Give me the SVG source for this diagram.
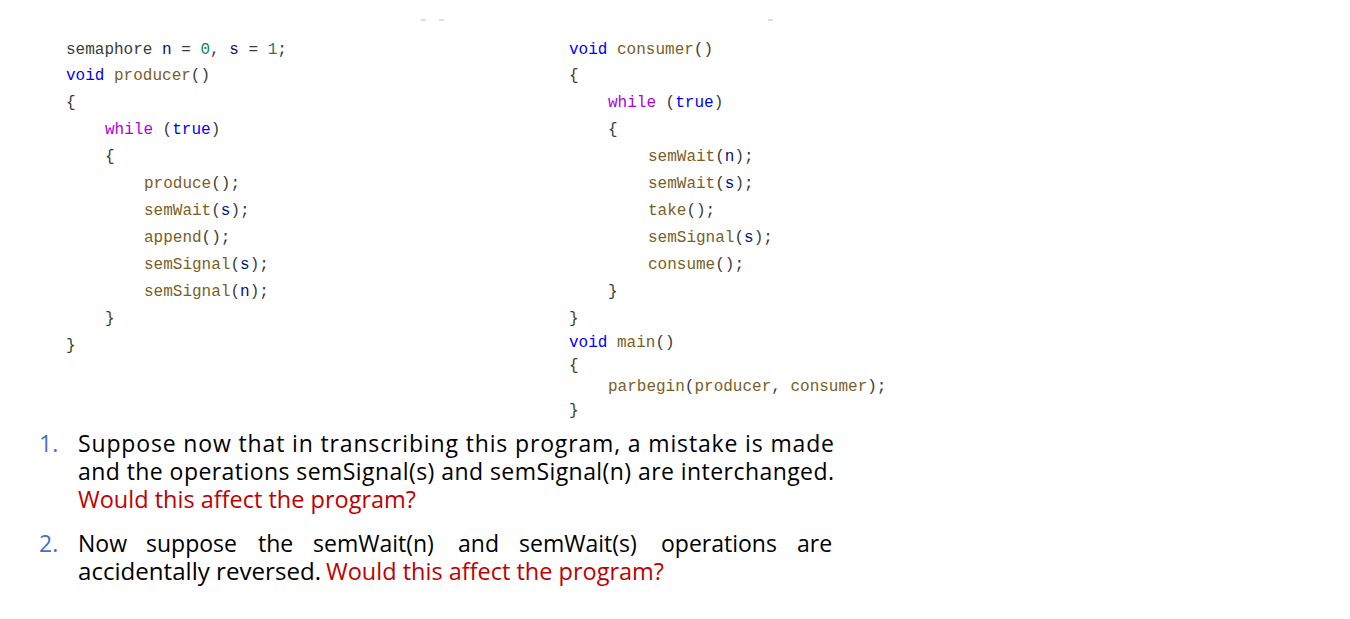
<svg xmlns="http://www.w3.org/2000/svg" width="1350" height="619" viewBox="0 0 1350 619">
<style>
.c{font-family:"Liberation Mono",monospace;font-size:16px;fill:#3b3b3b}
.k{fill:#0000ff}.f{fill:#795e26}.v{fill:#001080}.n{fill:#098658}.m{fill:#af00db}
.t{font-family:"Open Sans","Liberation Sans",sans-serif;font-size:23px;fill:#000}
.r{fill:#c00000}.b{fill:#4472c4}
</style>
<rect width="1350" height="619" fill="#fff"/>
<g stroke="#bbb" stroke-width="1"><line x1="421" y1="20" x2="426" y2="20"/><line x1="439" y1="20" x2="444" y2="20"/><line x1="768" y1="20" x2="773" y2="20"/></g>
<g id="producer" class="c">
<text x="66" y="54">semaphore <tspan class="v">n</tspan> = <tspan class="n">0</tspan>, <tspan class="v">s</tspan> = <tspan class="n">1</tspan>;</text>
<text x="66" y="80"><tspan class="k">void</tspan> <tspan class="f">producer</tspan>()</text>
<text x="66" y="107">{</text>
<text x="105" y="134"><tspan class="m">while</tspan> (<tspan class="k">true</tspan>)</text>
<text x="105" y="161">{</text>
<text x="144" y="188"><tspan class="f">produce</tspan>();</text>
<text x="144" y="215"><tspan class="f">semWait</tspan>(<tspan class="v">s</tspan>);</text>
<text x="144" y="242"><tspan class="f">append</tspan>();</text>
<text x="144" y="269"><tspan class="f">semSignal</tspan>(<tspan class="v">s</tspan>);</text>
<text x="144" y="296"><tspan class="f">semSignal</tspan>(<tspan class="v">n</tspan>);</text>
<text x="105" y="323">}</text>
<text x="66" y="350">}</text>
</g>
<g id="consumer" class="c">
<text x="569" y="54"><tspan class="k">void</tspan> <tspan class="f">consumer</tspan>()</text>
<text x="569" y="80">{</text>
<text x="608" y="107"><tspan class="m">while</tspan> (<tspan class="k">true</tspan>)</text>
<text x="608" y="134">{</text>
<text x="648" y="161"><tspan class="f">semWait</tspan>(<tspan class="v">n</tspan>);</text>
<text x="648" y="188"><tspan class="f">semWait</tspan>(<tspan class="v">s</tspan>);</text>
<text x="648" y="215"><tspan class="f">take</tspan>();</text>
<text x="648" y="242"><tspan class="f">semSignal</tspan>(<tspan class="v">s</tspan>);</text>
<text x="648" y="269"><tspan class="f">consume</tspan>();</text>
<text x="608" y="296">}</text>
<text x="569" y="323">}</text>
<text x="569" y="347"><tspan class="k">void</tspan> <tspan class="f">main</tspan>()</text>
<text x="569" y="370">{</text>
<text x="608" y="391"><tspan class="f">parbegin</tspan>(<tspan class="f">producer</tspan>, <tspan class="f">consumer</tspan>);</text>
<text x="569" y="415">}</text>
</g>
<g id="questions" class="t">
<text x="39" y="452" class="b">1.</text>
<text x="78" y="452" textLength="756" lengthAdjust="spacing">Suppose now that in transcribing this program, a mistake is made</text>
<text x="78" y="480" textLength="756" lengthAdjust="spacing">and the operations semSignal(s) and semSignal(n) are interchanged.</text>
<text x="78" y="508" class="r" textLength="338" lengthAdjust="spacingAndGlyphs">Would this affect the program?</text>
<text x="39" y="552" class="b">2.</text>
<text y="552"><tspan x="78">Now</tspan><tspan x="146">suppose</tspan><tspan x="258">the</tspan><tspan x="313">semWait(n)</tspan><tspan x="458">and</tspan><tspan x="519">semWait(s)</tspan><tspan x="661">operations</tspan><tspan x="797">are</tspan></text>
<text x="78" y="580"><tspan textLength="243" lengthAdjust="spacingAndGlyphs">accidentally reversed.</tspan> <tspan class="r" x="326" textLength="338" lengthAdjust="spacingAndGlyphs">Would this affect the program?</tspan></text>
</g>
</svg>
